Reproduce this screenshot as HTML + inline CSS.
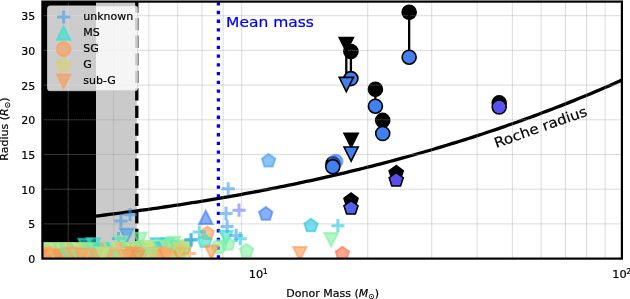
<!DOCTYPE html>
<html><head><meta charset="utf-8"><title>Radius vs Donor Mass</title>
<style>html,body{margin:0;padding:0;background:#fff;overflow:hidden}svg{display:block}</style>
</head><body>
<svg width="630" height="299" viewBox="0 0 630 299">
<defs><clipPath id="ax"><rect x="42.4" y="1.6" width="579.5" height="257"/></clipPath></defs>
<rect width="630" height="299" fill="#fff"/>
<rect x="42.4" y="1.6" width="53.6" height="257" fill="#000"/>
<rect x="96" y="1.6" width="40.8" height="257" fill="#cacaca"/>
<path d="M96 216.07 L100.38 215.54 L104.77 215.01 L109.15 214.47 L113.53 213.92 L117.91 213.36 L122.3 212.8 L126.68 212.23 L131.06 211.65 L135.44 211.07 L139.82 210.47 L144.21 209.87 L148.59 209.26 L152.97 208.65 L157.35 208.02 L161.74 207.39 L166.12 206.75 L170.5 206.1 L174.88 205.44 L179.27 204.77 L183.65 204.1 L188.03 203.41 L192.41 202.72 L196.8 202.02 L201.18 201.31 L205.56 200.59 L209.94 199.87 L214.33 199.13 L218.71 198.39 L223.09 197.63 L227.47 196.87 L231.86 196.1 L236.24 195.31 L240.62 194.52 L245 193.72 L249.39 192.91 L253.77 192.09 L258.15 191.26 L262.53 190.42 L266.92 189.57 L271.3 188.72 L275.68 187.85 L280.06 186.97 L284.45 186.08 L288.83 185.18 L293.21 184.27 L297.59 183.35 L301.98 182.42 L306.36 181.48 L310.74 180.52 L315.12 179.56 L319.51 178.59 L323.89 177.6 L328.27 176.61 L332.65 175.6 L337.04 174.58 L341.42 173.56 L345.8 172.52 L350.18 171.47 L354.57 170.4 L358.95 169.33 L363.33 168.24 L367.71 167.14 L372.1 166.04 L376.48 164.91 L380.86 163.78 L385.25 162.64 L389.63 161.48 L394.01 160.31 L398.39 159.13 L402.77 157.93 L407.16 156.73 L411.54 155.51 L415.92 154.27 L420.31 153.03 L424.69 151.77 L429.07 150.5 L433.45 149.22 L437.83 147.92 L442.22 146.61 L446.6 145.29 L450.98 143.95 L455.36 142.6 L459.75 141.23 L464.13 139.86 L468.51 138.46 L472.9 137.06 L477.28 135.64 L481.66 134.2 L486.04 132.76 L490.43 131.29 L494.81 129.82 L499.19 128.32 L503.57 126.82 L507.95 125.29 L512.34 123.76 L516.72 122.21 L521.1 120.64 L525.48 119.06 L529.87 117.46 L534.25 115.85 L538.63 114.22 L543.01 112.57 L547.4 110.91 L551.78 109.24 L556.16 107.55 L560.54 105.84 L564.93 104.11 L569.31 102.37 L573.69 100.61 L578.08 98.84 L582.46 97.04 L586.84 95.24 L591.22 93.41 L595.61 91.57 L599.99 89.7 L604.37 87.83 L608.75 85.93 L613.13 84.02 L617.52 82.08 L621.9 80.13" stroke="#000" stroke-width="3.3" fill="none" stroke-linecap="butt"/>
<path d="M136.8 258.6V1.6" stroke="#000" stroke-width="3.3" stroke-dasharray="12.26 5.3" fill="none"/>
<path d="M218.4 258.6V1.6" stroke="#0000ff" stroke-width="3.3" stroke-dasharray="3.3 5.43" fill="none"/>
<circle cx="409.15" cy="12.2" r="7" fill="#000" stroke="#000" stroke-width="1.6"/><path d="M346.3 51.7L339.2 37.5L353.4 37.5Z" fill="#000" stroke="#000" stroke-width="1.6"/><circle cx="350.9" cy="51.5" r="7" fill="#000" stroke="#000" stroke-width="1.6"/><circle cx="375.4" cy="89.3" r="7" fill="#000" stroke="#000" stroke-width="1.6"/><circle cx="382.7" cy="120.4" r="7" fill="#000" stroke="#000" stroke-width="1.6"/><path d="M351.1 147.4L344 133.2L358.2 133.2Z" fill="#000" stroke="#000" stroke-width="1.6"/><circle cx="333" cy="163.8" r="7" fill="#000" stroke="#000" stroke-width="1.6"/><path d="M351 193.1L343.96 198.21L346.65 206.49L355.35 206.49L358.04 198.21Z" fill="#000" stroke="#000" stroke-width="1.6"/><path d="M396.2 165.6L389.16 170.71L391.85 178.99L400.55 178.99L403.24 170.71Z" fill="#000" stroke="#000" stroke-width="1.6"/><circle cx="499.2" cy="102.9" r="7" fill="#000" stroke="#000" stroke-width="1.6"/>
<path d="M42.4 223.9H621.9 M42.4 189.2H621.9 M42.4 154.5H621.9 M42.4 119.8H621.9 M42.4 85.1H621.9 M42.4 50.4H621.9 M42.4 15.7H621.9 M68.23 258.6V1.6 M113.65 258.6V1.6 M148.88 258.6V1.6 M177.66 258.6V1.6 M201.99 258.6V1.6 M223.07 258.6V1.6 M241.67 258.6V1.6 M367.72 258.6V1.6 M431.73 258.6V1.6 M477.15 258.6V1.6 M512.38 258.6V1.6 M541.16 258.6V1.6 M565.49 258.6V1.6 M586.57 258.6V1.6 M605.17 258.6V1.6" stroke="#9a9a9a" stroke-opacity="0.7" stroke-width="1" stroke-dasharray="1 1" fill="none"/>
<g clip-path="url(#ax)"><path d="M85 252.2L78.3 238.8L91.7 238.8Z" fill="#30e0d0" stroke="#30e0d0" stroke-width="2.0" fill-opacity="0.6" stroke-opacity="0.6"/><path d="M93.5 251.7L86.8 238.3L100.2 238.3Z" fill="#30e0d0" stroke="#30e0d0" stroke-width="2.0" fill-opacity="0.6" stroke-opacity="0.6"/><path d="M111.9 238.5H125.1M118.5 231.9V245.1" stroke="#3d9bf0" stroke-width="3.0" fill="none" stroke-opacity="0.6"/><path d="M126.8 242.2L120.1 228.8L133.5 228.8Z" fill="#3d9bf0" stroke="#3d9bf0" stroke-width="2.0" fill-opacity="0.6" stroke-opacity="0.6"/><path d="M121 249.7L114.3 236.3L127.7 236.3Z" fill="#80f0a0" stroke="#80f0a0" stroke-width="2.0" fill-opacity="0.6" stroke-opacity="0.6"/><path d="M140 246.2L133.3 232.8L146.7 232.8Z" fill="#80f0a0" stroke="#80f0a0" stroke-width="2.0" fill-opacity="0.6" stroke-opacity="0.6"/><path d="M157.4 251.7L150.7 238.3L164.1 238.3Z" fill="#20c8e0" stroke="#20c8e0" stroke-width="2.0" fill-opacity="0.6" stroke-opacity="0.6"/><path d="M167.5 251.7L160.8 238.3L174.2 238.3Z" fill="#30e0d0" stroke="#30e0d0" stroke-width="2.0" fill-opacity="0.6" stroke-opacity="0.6"/><path d="M34 256.78L27.3 243.38L40.7 243.38Z" fill="#a0e888" stroke="#a0e888" stroke-width="2.0" fill-opacity="0.6" stroke-opacity="0.6"/><path d="M36.1 256.76L29.4 243.36L42.8 243.36Z" fill="#90e890" stroke="#90e890" stroke-width="2.0" fill-opacity="0.6" stroke-opacity="0.6"/><path d="M38.21 256.56L31.51 243.16L44.91 243.16Z" fill="#90e890" stroke="#90e890" stroke-width="2.0" fill-opacity="0.6" stroke-opacity="0.6"/><path d="M41.05 256.8L34.35 243.4L47.75 243.4Z" fill="#c8e890" stroke="#c8e890" stroke-width="2.0" fill-opacity="0.6" stroke-opacity="0.6"/><path d="M44.7 256.94L38 243.54L51.4 243.54Z" fill="#a0e888" stroke="#a0e888" stroke-width="2.0" fill-opacity="0.6" stroke-opacity="0.6"/><path d="M47.87 256.78L41.17 243.38L54.57 243.38Z" fill="#c8e890" stroke="#c8e890" stroke-width="2.0" fill-opacity="0.6" stroke-opacity="0.6"/><path d="M51.82 256.7L45.12 243.3L58.52 243.3Z" fill="#a0e888" stroke="#a0e888" stroke-width="2.0" fill-opacity="0.6" stroke-opacity="0.6"/><path d="M54.11 256.89L47.41 243.49L60.81 243.49Z" fill="#b8e888" stroke="#b8e888" stroke-width="2.0" fill-opacity="0.6" stroke-opacity="0.6"/><path d="M57.47 256.95L50.77 243.55L64.17 243.55Z" fill="#c8e890" stroke="#c8e890" stroke-width="2.0" fill-opacity="0.6" stroke-opacity="0.6"/><path d="M60.22 256.9L53.52 243.5L66.92 243.5Z" fill="#90e890" stroke="#90e890" stroke-width="2.0" fill-opacity="0.6" stroke-opacity="0.6"/><path d="M63.46 256.8L56.76 243.4L70.16 243.4Z" fill="#c8e890" stroke="#c8e890" stroke-width="2.0" fill-opacity="0.6" stroke-opacity="0.6"/><path d="M66.08 256.75L59.38 243.35L72.78 243.35Z" fill="#80e8a0" stroke="#80e8a0" stroke-width="2.0" fill-opacity="0.6" stroke-opacity="0.6"/><path d="M68.58 256.56L61.88 243.16L75.28 243.16Z" fill="#a0e888" stroke="#a0e888" stroke-width="2.0" fill-opacity="0.6" stroke-opacity="0.6"/><path d="M71.18 257.01L64.48 243.61L77.88 243.61Z" fill="#b8e888" stroke="#b8e888" stroke-width="2.0" fill-opacity="0.6" stroke-opacity="0.6"/><path d="M73.76 256.86L67.06 243.46L80.46 243.46Z" fill="#e8c070" stroke="#e8c070" stroke-width="2.0" fill-opacity="0.6" stroke-opacity="0.6"/><path d="M76.09 256.8L69.39 243.4L82.79 243.4Z" fill="#80e8a0" stroke="#80e8a0" stroke-width="2.0" fill-opacity="0.6" stroke-opacity="0.6"/><path d="M80.01 256.9L73.31 243.5L86.71 243.5Z" fill="#c8e890" stroke="#c8e890" stroke-width="2.0" fill-opacity="0.6" stroke-opacity="0.6"/><path d="M83.76 256.92L77.06 243.52L90.46 243.52Z" fill="#b8e888" stroke="#b8e888" stroke-width="2.0" fill-opacity="0.6" stroke-opacity="0.6"/><path d="M86.92 257.16L80.22 243.76L93.62 243.76Z" fill="#90e890" stroke="#90e890" stroke-width="2.0" fill-opacity="0.6" stroke-opacity="0.6"/><path d="M89.87 257.01L83.17 243.61L96.57 243.61Z" fill="#90e890" stroke="#90e890" stroke-width="2.0" fill-opacity="0.6" stroke-opacity="0.6"/><path d="M92.49 256.7L85.79 243.3L99.19 243.3Z" fill="#80e8a0" stroke="#80e8a0" stroke-width="2.0" fill-opacity="0.6" stroke-opacity="0.6"/><path d="M95.26 257.16L88.56 243.76L101.96 243.76Z" fill="#90e890" stroke="#90e890" stroke-width="2.0" fill-opacity="0.6" stroke-opacity="0.6"/><path d="M97.97 257.04L91.27 243.64L104.67 243.64Z" fill="#a0e888" stroke="#a0e888" stroke-width="2.0" fill-opacity="0.6" stroke-opacity="0.6"/><path d="M100.23 257.14L93.53 243.74L106.93 243.74Z" fill="#40e0c8" stroke="#40e0c8" stroke-width="2.0" fill-opacity="0.6" stroke-opacity="0.6"/><path d="M103.22 256.88L96.52 243.48L109.92 243.48Z" fill="#40e0c8" stroke="#40e0c8" stroke-width="2.0" fill-opacity="0.6" stroke-opacity="0.6"/><path d="M106.99 256.99L100.29 243.59L113.69 243.59Z" fill="#f0b070" stroke="#f0b070" stroke-width="2.0" fill-opacity="0.6" stroke-opacity="0.6"/><path d="M110.96 256.61L104.26 243.21L117.66 243.21Z" fill="#a0e888" stroke="#a0e888" stroke-width="2.0" fill-opacity="0.6" stroke-opacity="0.6"/><path d="M113.32 256.51L106.62 243.11L120.02 243.11Z" fill="#30d8e0" stroke="#30d8e0" stroke-width="2.0" fill-opacity="0.6" stroke-opacity="0.6"/><path d="M116.98 256.5L110.28 243.1L123.68 243.1Z" fill="#b8e888" stroke="#b8e888" stroke-width="2.0" fill-opacity="0.6" stroke-opacity="0.6"/><path d="M119.82 256.72L113.12 243.32L126.52 243.32Z" fill="#c8e890" stroke="#c8e890" stroke-width="2.0" fill-opacity="0.6" stroke-opacity="0.6"/><path d="M122.07 256.82L115.37 243.42L128.77 243.42Z" fill="#e8c070" stroke="#e8c070" stroke-width="2.0" fill-opacity="0.6" stroke-opacity="0.6"/><path d="M125.81 256.78L119.11 243.38L132.51 243.38Z" fill="#f0b070" stroke="#f0b070" stroke-width="2.0" fill-opacity="0.6" stroke-opacity="0.6"/><path d="M128.6 256.54L121.9 243.14L135.3 243.14Z" fill="#80e8a0" stroke="#80e8a0" stroke-width="2.0" fill-opacity="0.6" stroke-opacity="0.6"/><path d="M130.73 256.58L124.03 243.18L137.43 243.18Z" fill="#a0e888" stroke="#a0e888" stroke-width="2.0" fill-opacity="0.6" stroke-opacity="0.6"/><path d="M133.93 256.61L127.23 243.21L140.63 243.21Z" fill="#c8e890" stroke="#c8e890" stroke-width="2.0" fill-opacity="0.6" stroke-opacity="0.6"/><path d="M136.14 256.55L129.44 243.15L142.84 243.15Z" fill="#90e890" stroke="#90e890" stroke-width="2.0" fill-opacity="0.6" stroke-opacity="0.6"/><path d="M138.55 257.17L131.85 243.77L145.25 243.77Z" fill="#b8e888" stroke="#b8e888" stroke-width="2.0" fill-opacity="0.6" stroke-opacity="0.6"/><path d="M141.76 255.75L135.06 242.35L148.46 242.35Z" fill="#90e890" stroke="#90e890" stroke-width="2.0" fill-opacity="0.6" stroke-opacity="0.6"/><path d="M145.74 254.14L139.04 240.74L152.44 240.74Z" fill="#80e8a0" stroke="#80e8a0" stroke-width="2.0" fill-opacity="0.6" stroke-opacity="0.6"/><path d="M148.03 254.64L141.33 241.24L154.73 241.24Z" fill="#b8e888" stroke="#b8e888" stroke-width="2.0" fill-opacity="0.6" stroke-opacity="0.6"/><path d="M151.42 254.29L144.72 240.89L158.12 240.89Z" fill="#c8e890" stroke="#c8e890" stroke-width="2.0" fill-opacity="0.6" stroke-opacity="0.6"/><path d="M154.8 256.14L148.1 242.74L161.5 242.74Z" fill="#b8e888" stroke="#b8e888" stroke-width="2.0" fill-opacity="0.6" stroke-opacity="0.6"/><path d="M158.52 255.92L151.82 242.52L165.22 242.52Z" fill="#b8e888" stroke="#b8e888" stroke-width="2.0" fill-opacity="0.6" stroke-opacity="0.6"/><path d="M161.23 255.54L154.53 242.14L167.93 242.14Z" fill="#50e0d0" stroke="#50e0d0" stroke-width="2.0" fill-opacity="0.6" stroke-opacity="0.6"/><path d="M163.89 255.62L157.19 242.22L170.59 242.22Z" fill="#30d8e0" stroke="#30d8e0" stroke-width="2.0" fill-opacity="0.6" stroke-opacity="0.6"/><path d="M167.53 254.68L160.83 241.28L174.23 241.28Z" fill="#c8e890" stroke="#c8e890" stroke-width="2.0" fill-opacity="0.6" stroke-opacity="0.6"/><path d="M170.99 253.98L164.29 240.58L177.69 240.58Z" fill="#80e8a0" stroke="#80e8a0" stroke-width="2.0" fill-opacity="0.6" stroke-opacity="0.6"/><path d="M174.38 256.07L167.68 242.67L181.08 242.67Z" fill="#b8e888" stroke="#b8e888" stroke-width="2.0" fill-opacity="0.6" stroke-opacity="0.6"/><path d="M177.11 254.61L170.41 241.21L183.81 241.21Z" fill="#30d8e0" stroke="#30d8e0" stroke-width="2.0" fill-opacity="0.6" stroke-opacity="0.6"/><path d="M179.78 255.72L173.08 242.32L186.48 242.32Z" fill="#c8e890" stroke="#c8e890" stroke-width="2.0" fill-opacity="0.6" stroke-opacity="0.6"/><path d="M182.74 255.7L176.04 242.3L189.44 242.3Z" fill="#90e890" stroke="#90e890" stroke-width="2.0" fill-opacity="0.6" stroke-opacity="0.6"/><path d="M184.98 254.63L178.28 241.23L191.68 241.23Z" fill="#a0e888" stroke="#a0e888" stroke-width="2.0" fill-opacity="0.6" stroke-opacity="0.6"/><path d="M187.34 253.46L180.64 240.06L194.04 240.06Z" fill="#b8e888" stroke="#b8e888" stroke-width="2.0" fill-opacity="0.6" stroke-opacity="0.6"/><path d="M76.36 263.59L69.66 250.19L83.06 250.19Z" fill="#ffa060" stroke="#ffa060" stroke-width="2.0" fill-opacity="0.6" stroke-opacity="0.6"/><path d="M42.24 262.8L35.54 249.4L48.94 249.4Z" fill="#f49850" stroke="#f49850" stroke-width="2.0" fill-opacity="0.6" stroke-opacity="0.6"/><path d="M148.85 262.34L142.15 248.94L155.55 248.94Z" fill="#ffa060" stroke="#ffa060" stroke-width="2.0" fill-opacity="0.6" stroke-opacity="0.6"/><path d="M180.84 262.6L174.14 249.2L187.54 249.2Z" fill="#ffb070" stroke="#ffb070" stroke-width="2.0" fill-opacity="0.6" stroke-opacity="0.6"/><path d="M135.96 260.81L129.26 247.41L142.66 247.41Z" fill="#ffb070" stroke="#ffb070" stroke-width="2.0" fill-opacity="0.6" stroke-opacity="0.6"/><path d="M159.71 260.55L153.01 247.15L166.41 247.15Z" fill="#ffa060" stroke="#ffa060" stroke-width="2.0" fill-opacity="0.6" stroke-opacity="0.6"/><path d="M122.07 262.29L115.37 248.89L128.77 248.89Z" fill="#ffb070" stroke="#ffb070" stroke-width="2.0" fill-opacity="0.6" stroke-opacity="0.6"/><path d="M175.42 260.55L168.72 247.15L182.12 247.15Z" fill="#a0e888" stroke="#a0e888" stroke-width="2.0" fill-opacity="0.6" stroke-opacity="0.6"/><path d="M145.02 261.96L138.32 248.56L151.72 248.56Z" fill="#c8e890" stroke="#c8e890" stroke-width="2.0" fill-opacity="0.6" stroke-opacity="0.6"/><path d="M142.78 261.43L136.08 248.03L149.48 248.03Z" fill="#ffa060" stroke="#ffa060" stroke-width="2.0" fill-opacity="0.6" stroke-opacity="0.6"/><path d="M52.41 263.39L45.71 249.99L59.11 249.99Z" fill="#f8a868" stroke="#f8a868" stroke-width="2.0" fill-opacity="0.6" stroke-opacity="0.6"/><path d="M163.18 262.3L156.48 248.9L169.88 248.9Z" fill="#f8a868" stroke="#f8a868" stroke-width="2.0" fill-opacity="0.6" stroke-opacity="0.6"/><path d="M156.1 261.45L149.4 248.05L162.8 248.05Z" fill="#f8a868" stroke="#f8a868" stroke-width="2.0" fill-opacity="0.6" stroke-opacity="0.6"/><path d="M153.69 262.36L146.99 248.96L160.39 248.96Z" fill="#ffb070" stroke="#ffb070" stroke-width="2.0" fill-opacity="0.6" stroke-opacity="0.6"/><path d="M64.11 262.36L57.41 248.96L70.81 248.96Z" fill="#f8a868" stroke="#f8a868" stroke-width="2.0" fill-opacity="0.6" stroke-opacity="0.6"/><path d="M118.66 262.11L111.96 248.71L125.36 248.71Z" fill="#c8e890" stroke="#c8e890" stroke-width="2.0" fill-opacity="0.6" stroke-opacity="0.6"/><path d="M184.23 261.05L177.53 247.65L190.93 247.65Z" fill="#a0e888" stroke="#a0e888" stroke-width="2.0" fill-opacity="0.6" stroke-opacity="0.6"/><path d="M115.22 261.61L108.52 248.21L121.92 248.21Z" fill="#ffb070" stroke="#ffb070" stroke-width="2.0" fill-opacity="0.6" stroke-opacity="0.6"/><path d="M54.83 262.25L48.13 248.85L61.53 248.85Z" fill="#b8e888" stroke="#b8e888" stroke-width="2.0" fill-opacity="0.6" stroke-opacity="0.6"/><path d="M172.73 261.92L166.03 248.52L179.43 248.52Z" fill="#a0e888" stroke="#a0e888" stroke-width="2.0" fill-opacity="0.6" stroke-opacity="0.6"/><path d="M60.48 262.82L53.78 249.42L67.18 249.42Z" fill="#f49850" stroke="#f49850" stroke-width="2.0" fill-opacity="0.6" stroke-opacity="0.6"/><path d="M126.41 263.67L119.71 250.27L133.11 250.27Z" fill="#90e890" stroke="#90e890" stroke-width="2.0" fill-opacity="0.6" stroke-opacity="0.6"/><path d="M108.74 263.96L102.04 250.56L115.44 250.56Z" fill="#f8a868" stroke="#f8a868" stroke-width="2.0" fill-opacity="0.6" stroke-opacity="0.6"/><path d="M37.89 263.98L31.19 250.58L44.59 250.58Z" fill="#f8a868" stroke="#f8a868" stroke-width="2.0" fill-opacity="0.6" stroke-opacity="0.6"/><path d="M87.62 262.28L80.92 248.88L94.32 248.88Z" fill="#f49850" stroke="#f49850" stroke-width="2.0" fill-opacity="0.6" stroke-opacity="0.6"/><path d="M132.12 261.02L125.42 247.62L138.82 247.62Z" fill="#f49850" stroke="#f49850" stroke-width="2.0" fill-opacity="0.6" stroke-opacity="0.6"/><path d="M44.94 260.57L38.24 247.17L51.64 247.17Z" fill="#f8a868" stroke="#f8a868" stroke-width="2.0" fill-opacity="0.6" stroke-opacity="0.6"/><path d="M140.61 263.31L133.91 249.91L147.31 249.91Z" fill="#90e890" stroke="#90e890" stroke-width="2.0" fill-opacity="0.6" stroke-opacity="0.6"/><path d="M112.41 263.98L105.71 250.58L119.11 250.58Z" fill="#80e8a0" stroke="#80e8a0" stroke-width="2.0" fill-opacity="0.6" stroke-opacity="0.6"/><path d="M58.36 263.42L51.66 250.02L65.06 250.02Z" fill="#f49850" stroke="#f49850" stroke-width="2.0" fill-opacity="0.6" stroke-opacity="0.6"/><path d="M165.67 262.8L158.97 249.4L172.37 249.4Z" fill="#f49850" stroke="#f49850" stroke-width="2.0" fill-opacity="0.6" stroke-opacity="0.6"/><path d="M151.33 261.42L144.63 248.02L158.03 248.02Z" fill="#a0e888" stroke="#a0e888" stroke-width="2.0" fill-opacity="0.6" stroke-opacity="0.6"/><path d="M168.76 262.91L162.06 249.51L175.46 249.51Z" fill="#ffb070" stroke="#ffb070" stroke-width="2.0" fill-opacity="0.6" stroke-opacity="0.6"/><path d="M70.37 261.1L63.67 247.7L77.07 247.7Z" fill="#f8a868" stroke="#f8a868" stroke-width="2.0" fill-opacity="0.6" stroke-opacity="0.6"/><path d="M128.77 263.47L122.07 250.07L135.47 250.07Z" fill="#f49850" stroke="#f49850" stroke-width="2.0" fill-opacity="0.6" stroke-opacity="0.6"/><path d="M84.71 262.92L78.01 249.52L91.41 249.52Z" fill="#f8a868" stroke="#f8a868" stroke-width="2.0" fill-opacity="0.6" stroke-opacity="0.6"/><path d="M124.2 263.9L117.5 250.5L130.9 250.5Z" fill="#f8a868" stroke="#f8a868" stroke-width="2.0" fill-opacity="0.6" stroke-opacity="0.6"/><path d="M48.54 262.34L41.84 248.94L55.24 248.94Z" fill="#ffa060" stroke="#ffa060" stroke-width="2.0" fill-opacity="0.6" stroke-opacity="0.6"/><path d="M106.56 263.11L99.86 249.71L113.26 249.71Z" fill="#f8a868" stroke="#f8a868" stroke-width="2.0" fill-opacity="0.6" stroke-opacity="0.6"/><path d="M178.67 261.07L171.97 247.67L185.37 247.67Z" fill="#f49850" stroke="#f49850" stroke-width="2.0" fill-opacity="0.6" stroke-opacity="0.6"/><path d="M34 261.9L27.3 248.5L40.7 248.5Z" fill="#f49850" stroke="#f49850" stroke-width="2.0" fill-opacity="0.6" stroke-opacity="0.6"/><path d="M67.16 263.22L60.46 249.82L73.86 249.82Z" fill="#80e8a0" stroke="#80e8a0" stroke-width="2.0" fill-opacity="0.6" stroke-opacity="0.6"/><path d="M99 263.24L92.3 249.84L105.7 249.84Z" fill="#b8e888" stroke="#b8e888" stroke-width="2.0" fill-opacity="0.6" stroke-opacity="0.6"/><path d="M73.32 261.64L66.62 248.24L80.02 248.24Z" fill="#ffa060" stroke="#ffa060" stroke-width="2.0" fill-opacity="0.6" stroke-opacity="0.6"/><path d="M90.11 263.73L83.41 250.33L96.81 250.33Z" fill="#ffb070" stroke="#ffb070" stroke-width="2.0" fill-opacity="0.6" stroke-opacity="0.6"/><path d="M39.95 263.32L33.25 249.92L46.65 249.92Z" fill="#f49850" stroke="#f49850" stroke-width="2.0" fill-opacity="0.6" stroke-opacity="0.6"/><path d="M78.47 263.2L71.77 249.8L85.17 249.8Z" fill="#90e890" stroke="#90e890" stroke-width="2.0" fill-opacity="0.6" stroke-opacity="0.6"/><path d="M93.9 260.98L87.2 247.58L100.6 247.58Z" fill="#80e8a0" stroke="#80e8a0" stroke-width="2.0" fill-opacity="0.6" stroke-opacity="0.6"/><path d="M138.07 263.63L131.37 250.23L144.77 250.23Z" fill="#f49850" stroke="#f49850" stroke-width="2.0" fill-opacity="0.6" stroke-opacity="0.6"/><path d="M96.14 262.85L89.44 249.45L102.84 249.45Z" fill="#ffa060" stroke="#ffa060" stroke-width="2.0" fill-opacity="0.6" stroke-opacity="0.6"/><path d="M102.79 261L96.09 247.6L109.49 247.6Z" fill="#b8e888" stroke="#b8e888" stroke-width="2.0" fill-opacity="0.6" stroke-opacity="0.6"/><path d="M81.49 262.05L74.79 248.65L88.19 248.65Z" fill="#ffa060" stroke="#ffa060" stroke-width="2.0" fill-opacity="0.6" stroke-opacity="0.6"/><path d="M173.5 250.1L166.8 236.7L180.2 236.7Z" fill="#80f0a0" stroke="#80f0a0" stroke-width="2.0" fill-opacity="0.6" stroke-opacity="0.6"/><path d="M180 257.5L173.3 244.1L186.7 244.1Z" fill="#d8d070" stroke="#d8d070" stroke-width="2.0" fill-opacity="0.6" stroke-opacity="0.6"/><path d="M114.3 220.9H127.5M120.9 214.3V227.5" stroke="#3d9bf0" stroke-width="3.0" fill="none" stroke-opacity="0.6"/><path d="M123.5 214.7H136.7M130.1 208.1V221.3" stroke="#3d9bf0" stroke-width="3.0" fill="none" stroke-opacity="0.6"/><path d="M182.9 253.5H196.1M189.5 246.9V260.1" stroke="#ff9a50" stroke-width="3.0" fill="none" stroke-opacity="0.6"/><path d="M184.3 239.8H197.5M190.9 233.2V246.4" stroke="#20c8e0" stroke-width="3.0" fill="none" stroke-opacity="0.6"/><path d="M184.6 239.8H197.8M191.2 233.2V246.4" stroke="#3d9bf0" stroke-width="3.0" fill="none" stroke-opacity="0.6"/><path d="M205.8 210.7L199.1 224.1L212.5 224.1Z" fill="#3a7af5" stroke="#3a7af5" stroke-width="2.0" fill-opacity="0.6" stroke-opacity="0.6"/><path d="M207.4 226.4L200.74 231.24L203.29 239.06L211.51 239.06L214.06 231.24Z" fill="#ff9a50" stroke="#ff9a50" stroke-width="2.0" fill-opacity="0.6" stroke-opacity="0.6"/><path d="M204.7 234.4L198.04 239.24L200.59 247.06L208.81 247.06L211.36 239.24Z" fill="#30e0d0" stroke="#30e0d0" stroke-width="2.0" fill-opacity="0.6" stroke-opacity="0.6"/><path d="M192.7 232H205.9M199.3 225.4V238.6" stroke="#20c8e0" stroke-width="3.0" fill="none" stroke-opacity="0.6"/><path d="M226.1 244.1L219.4 230.7L232.8 230.7Z" fill="#30e0d0" stroke="#30e0d0" stroke-width="2.0" fill-opacity="0.6" stroke-opacity="0.6"/><path d="M228.1 237.1L221.44 241.94L223.99 249.76L232.21 249.76L234.76 241.94Z" fill="#80f0a0" stroke="#80f0a0" stroke-width="2.0" fill-opacity="0.6" stroke-opacity="0.6"/><circle cx="218.8" cy="246.8" r="6.8" fill="#80f0a0" stroke="#80f0a0" stroke-width="2.0" fill-opacity="0.6" stroke-opacity="0.6"/><path d="M221.6 188.8H234.8M228.2 182.2V195.4" stroke="#3d9bf0" stroke-width="3.0" fill="none" stroke-opacity="0.6"/><path d="M219.4 213.4H232.6M226 206.8V220" stroke="#3d9bf0" stroke-width="3.0" fill="none" stroke-opacity="0.6"/><path d="M220.5 226.4H233.7M227.1 219.8V233" stroke="#3d9bf0" stroke-width="3.0" fill="none" stroke-opacity="0.6"/><path d="M232.4 210.2H245.6M239 203.6V216.8" stroke="#6a7cf5" stroke-width="3.0" fill="none" stroke-opacity="0.6"/><path d="M229.6 235.4H242.8M236.2 228.8V242" stroke="#3d9bf0" stroke-width="3.0" fill="none" stroke-opacity="0.6"/><path d="M233.6 238.7H246.8M240.2 232.1V245.3" stroke="#20c8e0" stroke-width="3.0" fill="none" stroke-opacity="0.6"/><path d="M246.5 243.9L239.84 248.74L242.39 256.56L250.61 256.56L253.16 248.74Z" fill="#80f0a0" stroke="#80f0a0" stroke-width="2.0" fill-opacity="0.6" stroke-opacity="0.6"/><path d="M211.4 258.8L204.7 245.4L218.1 245.4Z" fill="#ff9a50" stroke="#ff9a50" stroke-width="2.0" fill-opacity="0.6" stroke-opacity="0.6"/><path d="M265.8 207L259.14 211.84L261.69 219.66L269.91 219.66L272.46 211.84Z" fill="#3a7af5" stroke="#3a7af5" stroke-width="2.0" fill-opacity="0.6" stroke-opacity="0.6"/><path d="M268.6 153.9L261.94 158.74L264.49 166.56L272.71 166.56L275.26 158.74Z" fill="#3d9bf0" stroke="#3d9bf0" stroke-width="2.0" fill-opacity="0.6" stroke-opacity="0.6"/><path d="M311 218.7L304.34 223.54L306.89 231.36L315.11 231.36L317.66 223.54Z" fill="#20c8e0" stroke="#20c8e0" stroke-width="2.0" fill-opacity="0.6" stroke-opacity="0.6"/><path d="M331.3 225.7H344.5M337.9 219.1V232.3" stroke="#20c8e0" stroke-width="3.0" fill="none" stroke-opacity="0.6"/><path d="M331.2 246.5L324.5 233.1L337.9 233.1Z" fill="#80f0a0" stroke="#80f0a0" stroke-width="2.0" fill-opacity="0.6" stroke-opacity="0.6"/><path d="M299.8 260.4L293.1 247L306.5 247Z" fill="#ff9a50" stroke="#ff9a50" stroke-width="2.0" fill-opacity="0.6" stroke-opacity="0.6"/><path d="M342.4 246.7L335.74 251.54L338.29 259.36L346.51 259.36L349.06 251.54Z" fill="#ff6a40" stroke="#ff6a40" stroke-width="2.0" fill-opacity="0.6" stroke-opacity="0.6"/></g>
<path d="M409.15 12.2L409.15 57.2" stroke="#000" stroke-width="2.3"/><path d="M346.3 44.6L346.3 84.5" stroke="#000" stroke-width="2.3"/><path d="M350.9 51.5L350.9 78.6" stroke="#000" stroke-width="2.3"/><path d="M375.4 89.3L375.4 106.2" stroke="#000" stroke-width="2.3"/><path d="M382.7 120.4L382.7 133.5" stroke="#000" stroke-width="2.3"/><circle cx="335.7" cy="161.6" r="6.8" fill="#3a7af5" stroke="#3a7af5" stroke-width="2.0" fill-opacity="0.6" stroke-opacity="0.6"/><circle cx="409.15" cy="57.2" r="7" fill="#4080f0" stroke="#000" stroke-width="1.6"/><circle cx="350.9" cy="78.6" r="7" fill="#4080f0" stroke="#000" stroke-width="1.6"/><path d="M346.3 91.6L339.2 77.4L353.4 77.4Z" fill="#4080f0" stroke="#000" stroke-width="1.6"/><circle cx="375.4" cy="106.2" r="7" fill="#4080f0" stroke="#000" stroke-width="1.6"/><circle cx="382.7" cy="133.5" r="7" fill="#4080f0" stroke="#000" stroke-width="1.6"/><path d="M351.1 161.2L344 147L358.2 147Z" fill="#4080f0" stroke="#000" stroke-width="1.6"/><circle cx="332.8" cy="166.8" r="7" fill="#4080f0" stroke="#000" stroke-width="1.6"/><path d="M351 200.6L343.96 205.71L346.65 213.99L355.35 213.99L358.04 205.71Z" fill="#5062f0" stroke="#000" stroke-width="1.6"/><path d="M396.2 172.6L389.16 177.71L391.85 185.99L400.55 185.99L403.24 177.71Z" fill="#5a50f0" stroke="#000" stroke-width="1.6"/><circle cx="499.2" cy="107" r="7" fill="#5a50f0" stroke="#000" stroke-width="1.6"/>
<rect x="42.4" y="1.6" width="579.5" height="257" fill="none" stroke="#000" stroke-width="2.2"/>
<text transform="translate(226.1,27.3) scale(1,0.92)" style="font-family:'DejaVu Sans','Liberation Sans',sans-serif;font-size:15.5px" fill="#0000ff" stroke="#0000ff" stroke-width="0.25">Mean mass</text>
<text transform="translate(496.2,147.9) rotate(-19.5) scale(1,0.92)" style="font-family:'DejaVu Sans','Liberation Sans',sans-serif;font-size:15.1px" fill="#000" stroke="#000" stroke-width="0.2">Roche radius</text>
<rect x="47.5" y="5.9" width="90.1" height="84.8" rx="2.5" fill="#fff" fill-opacity="0.8" stroke="#ccc" stroke-opacity="0.8" stroke-width="1"/><path d="M57 17H70.2M63.6 10.4V23.6" stroke="#3d9bf0" stroke-width="3.0" fill="none" stroke-opacity="0.6"/><text x="83.3" y="19.9" style="font-family:'DejaVu Sans','Liberation Sans',sans-serif;font-size:11px" fill="#000" stroke="#000" stroke-width="0.2">unknown</text><path d="M63.6 26.37L56.9 39.77L70.3 39.77Z" fill="#30e0d0" stroke="#30e0d0" stroke-width="2.0" fill-opacity="0.6" stroke-opacity="0.6"/><text x="83.3" y="35.97" style="font-family:'DejaVu Sans','Liberation Sans',sans-serif;font-size:11px" fill="#000" stroke="#000" stroke-width="0.2">MS</text><circle cx="63.6" cy="49.14" r="6.8" fill="#ff9a50" stroke="#ff9a50" stroke-width="2.0" fill-opacity="0.6" stroke-opacity="0.6"/><text x="83.3" y="52.04" style="font-family:'DejaVu Sans','Liberation Sans',sans-serif;font-size:11px" fill="#000" stroke="#000" stroke-width="0.2">SG</text><path d="M63.6 58.21L56.94 63.05L59.49 70.87L67.71 70.87L70.26 63.05Z" fill="#d8d070" stroke="#d8d070" stroke-width="2.0" fill-opacity="0.6" stroke-opacity="0.6"/><text x="83.3" y="68.11" style="font-family:'DejaVu Sans','Liberation Sans',sans-serif;font-size:11px" fill="#000" stroke="#000" stroke-width="0.2">G</text><path d="M63.6 87.98L56.9 74.58L70.3 74.58Z" fill="#ff9a50" stroke="#ff9a50" stroke-width="2.0" fill-opacity="0.6" stroke-opacity="0.6"/><text x="83.3" y="84.18" style="font-family:'DejaVu Sans','Liberation Sans',sans-serif;font-size:11px" fill="#000" stroke="#000" stroke-width="0.2">sub-G</text>
<text x="35.2" y="263.1" text-anchor="end" style="font-family:'DejaVu Sans','Liberation Sans',sans-serif;font-size:11px" fill="#000" stroke="#000" stroke-width="0.2">0</text><text x="35.2" y="228.4" text-anchor="end" style="font-family:'DejaVu Sans','Liberation Sans',sans-serif;font-size:11px" fill="#000" stroke="#000" stroke-width="0.2">5</text><text x="35.2" y="193.7" text-anchor="end" style="font-family:'DejaVu Sans','Liberation Sans',sans-serif;font-size:11px" fill="#000" stroke="#000" stroke-width="0.2">10</text><text x="35.2" y="159" text-anchor="end" style="font-family:'DejaVu Sans','Liberation Sans',sans-serif;font-size:11px" fill="#000" stroke="#000" stroke-width="0.2">15</text><text x="35.2" y="124.3" text-anchor="end" style="font-family:'DejaVu Sans','Liberation Sans',sans-serif;font-size:11px" fill="#000" stroke="#000" stroke-width="0.2">20</text><text x="35.2" y="89.6" text-anchor="end" style="font-family:'DejaVu Sans','Liberation Sans',sans-serif;font-size:11px" fill="#000" stroke="#000" stroke-width="0.2">25</text><text x="35.2" y="54.9" text-anchor="end" style="font-family:'DejaVu Sans','Liberation Sans',sans-serif;font-size:11px" fill="#000" stroke="#000" stroke-width="0.2">30</text><text x="35.2" y="20.2" text-anchor="end" style="font-family:'DejaVu Sans','Liberation Sans',sans-serif;font-size:11px" fill="#000" stroke="#000" stroke-width="0.2">35</text><text x="248.8" y="277.7" style="font-family:'DejaVu Sans','Liberation Sans',sans-serif;font-size:11.3px" fill="#000" stroke="#000" stroke-width="0.2">10<tspan dx="-0.4" dy="-4.2" style="font-size:7.9px">1</tspan></text><text x="612.3" y="277.7" style="font-family:'DejaVu Sans','Liberation Sans',sans-serif;font-size:11.3px" fill="#000" stroke="#000" stroke-width="0.2">10<tspan dx="-0.4" dy="-4.2" style="font-size:7.9px">2</tspan></text>
<text x="332.6" y="297.2" text-anchor="middle" style="font-family:'DejaVu Sans','Liberation Sans',sans-serif;font-size:11px" fill="#000" stroke="#000" stroke-width="0.2">Donor Mass (<tspan font-style="italic">M</tspan><tspan dy="2" style="font-size:7.7px">⊙</tspan><tspan dy="-2">)</tspan></text>
<text transform="translate(8.4,129.1) rotate(-90)" text-anchor="middle" style="font-family:'DejaVu Sans','Liberation Sans',sans-serif;font-size:11px" fill="#000" stroke="#000" stroke-width="0.2">Radius (<tspan font-style="italic">R</tspan><tspan dy="2" style="font-size:7.7px">⊙</tspan><tspan dy="-2">)</tspan></text>
</svg>
</body></html>
